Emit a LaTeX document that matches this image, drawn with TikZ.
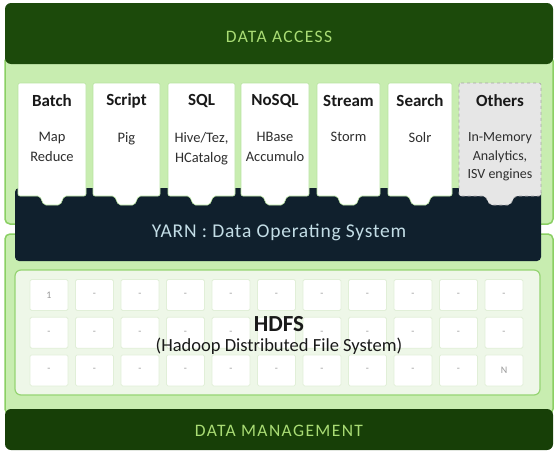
\documentclass[tikz,border=0pt]{standalone}
\usepackage{fontspec}
\setmainfont{Carlito}
\newfontfamily\spacedfont[LetterSpace=8]{Carlito}
\newfontfamily\yarnfont[LetterSpace=4]{Carlito}
\definecolor{bargreen}{HTML}{1C4A0B}
\definecolor{bardeep}{HTML}{173F07}
\definecolor{bartext}{HTML}{A9DC74}
\definecolor{panelfill}{HTML}{C8EDB0}
\definecolor{panelline}{HTML}{8ACF63}
\definecolor{yarnblue}{HTML}{10202D}
\definecolor{yarntext}{HTML}{C3DDE6}
\definecolor{hdfsfill}{HTML}{EEF7E8}
\definecolor{hdfsline}{HTML}{96D473}
\definecolor{cellline}{HTML}{E1EFD8}
\definecolor{colline}{HTML}{B8E3A0}
\definecolor{otherfill}{HTML}{E6E6E6}
\tikzset{
  panel/.style={fill=panelfill, draw=panelline, line width=1.5pt, rounded corners=5pt},
  bar/.style={fill=#1, rounded corners=6pt},
  bartitle/.style={text=bartext, font=\spacedfont\fontsize{17.5}{20}\selectfont},
  column/.style={fill=white, draw=colline, line width=.6pt, rounded corners=2pt},
  colhead/.style={font=\bfseries\fontsize{17}{20}\selectfont, text=black!90},
  colsub/.style={font=\fontsize{14.5}{19.5}\selectfont, align=center, text=black!82, anchor=north},
  cell/.style={fill=white, draw=cellline, line width=.8pt, rounded corners=1.5pt,
    minimum width=38pt, minimum height=31pt, inner sep=0pt,
    font=\fontsize{10}{12}\selectfont, text=black!40}
}
\begin{document}
\begin{tikzpicture}[x=1pt,y=-1pt]
\useasboundingbox (0,0) rectangle (560,455);
% green panels behind
\draw[panel] (5,56) rectangle (553,224);
\draw[panel] (5,234) rectangle (553,414);
% top and bottom bars
\fill[bar=bargreen] (5,3) rectangle (553,64);
\fill[bar=bardeep] (5,409) rectangle (553,450);
\node[bartitle] (access) at (279,37) {DATA ACCESS};
\node[bartitle] (management) at (279,431) {DATA MANAGEMENT};
% yarn band
\fill[yarnblue, rounded corners=4pt] (15,188) rectangle (541,261);
\node[text=yarntext, font=\yarnfont\fontsize{19.5}{22}\selectfont] (yarn) at (279,232) {YARN : Data Operating System};
% engines
\foreach \l/\r in {18/86,93/160,168/235,241/309,317/380,388/452}
  \draw[column] (\l,83) -- (\r,83) -- (\r,196) -- ({\l+.68*(\r-\l)},196) -- ({\l+.62*(\r-\l)},205)
    -- ({\l+.38*(\r-\l)},205) -- ({\l+.32*(\r-\l)},196) -- (\l,196) -- cycle;
\draw[column, fill=otherfill, draw=black!35, dashed] (459,83) -- (541,83) -- (541,196) -- (515,196) -- (510,205)
    -- (490,205) -- (485,196) -- (459,196) -- cycle;
\node[colhead] (batch) at (52,101) {Batch};
\node[colhead] (script) at (126.5,101) {Script};
\node[colhead] (sql) at (201.5,101) {SQL};
\node[colhead] (nosql) at (275,101) {NoSQL};
\node[colhead] (stream) at (348.5,101) {Stream};
\node[colhead] (search) at (420,101) {Search};
\node[colhead] (others) at (500,101) {Others};
\node[colsub] (batchsub) at (52,129) {Map\\Reduce};
\node[colsub] (scriptsub) at (126.5,129) {Pig};
\node[colsub] (sqlsub) at (201.5,129) {Hive/Tez,\\HCatalog};
\node[colsub] (nosqlsub) at (275,129) {HBase\\Accumulo};
\node[colsub] (streamsub) at (348.5,129) {Storm};
\node[colsub] (searchsub) at (420,129) {Solr};
\node[colsub, font=\fontsize{14}{18.5}\selectfont] (otherssub) at (500,129) {In-Memory\\Analytics,\\ISV engines};
% hdfs block
\draw[fill=hdfsfill, draw=hdfsline, line width=1.2pt, rounded corners=6pt] (15,270) rectangle (540,395);
\foreach \i in {0,...,10}
  \foreach \j in {0,1,2}{
    \ifnum\i\j=0 \def\lab{1}\else\ifnum\i\j=102 \def\lab{N}\else\ifnum\i\j=51 \def\lab{}\else\def\lab{-}\fi\fi\fi
    \node[cell] (cell\i\j) at ({49+45.5*\i},{295+37.7*\j}) {\lab};
  }
\node[font=\bfseries\fontsize{23}{26}\selectfont, text=black!90] (hdfs) at (279,324) {HDFS};
\node[font=\fontsize{18.5}{22}\selectfont, text=black!90] (hdfsname) at (279,346) {(Hadoop Distributed File System)};
\end{tikzpicture}
\end{document}
